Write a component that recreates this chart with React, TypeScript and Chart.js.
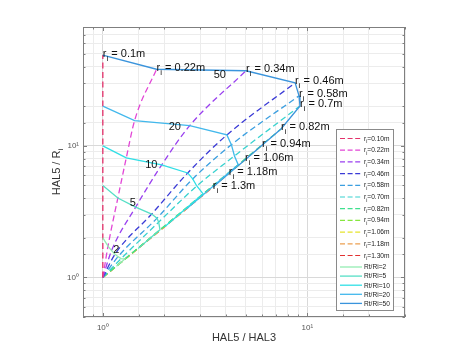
import React, { useEffect, useRef } from 'react';
import { Chart, registerables } from 'chart.js';
Chart.register(...registerables);

// ---- data ----
const RI_LEGEND = ['0.10m', '0.22m', '0.34m', '0.46m', '0.58m', '0.70m', '0.82m', '0.94m', '1.06m', '1.18m', '1.30m'];
const RI_TEXT = ['0.1m', '0.22m', '0.34m', '0.46m', '0.58m', '0.7m', '0.82m', '0.94m', '1.06m', '1.18m', '1.3m'];
const K_VALUES = [2, 5, 10, 20, 50];

// HAL5/HAL3 for each ri (rows) at Rt/Ri = 2, 5, 10, 20, 50 (columns)
const HAL_X = [
  [1, 1, 1, 1, 1],
  [1.06, 1.184, 1.302, 1.43, 1.83],
  [1.103, 1.447, 1.94, 2.66, 5.01],
  [1.148, 1.733, 2.6, 4.04, 8.71],
  [1.187, 1.84, 2.75, 4.25, 9.1],
  [1.228, 1.875, 2.88, 4.4, 9.2],
  [1.282, 1.903, 3.092, 4.59, 7.43],
  [1.248, 1.776, 2.74, 3.901, 6.0],
  [1.218, 1.669, 2.459, 3.369, 4.95],
  [1.193, 1.576, 2.222, 2.935, 4.13],
  [1.166, 1.488, 2.006, 2.561, 3.45],
];
// HAL5/Ri
const HAL_Y = [
  [2, 5, 10, 20, 49],
  [1.729, 4.01, 8.09, 15.56, 38.2],
  [1.597, 3.42, 7.16, 14.25, 37.2],
  [1.502, 3.03, 6.22, 12.1, 30.1],
  [1.438, 2.82, 5.6, 10.2, 24.0],
  [1.388, 2.63, 4.95, 8.38, 20.1],
  [1.379, 2.3, 4.313, 7.19, 13.43],
  [1.33, 2.099, 3.669, 5.79, 10.08],
  [1.289, 1.931, 3.177, 4.763, 7.81],
  [1.253, 1.79, 2.777, 3.967, 6.15],
  [1.216, 1.66, 2.431, 3.316, 4.85],
];
const ORIGIN_X = 1;
const ORIGIN_Y = 1;

// contour label anchors (Rt/Ri = 2, 5, 10, 20, 50)
const K_LABEL_X = [1.163, 1.403, 1.727, 2.25, 3.73];
const K_LABEL_Y = [1.63, 3.69, 7.16, 13.86, 34.7];

const X_MIN = 0.8, X_MAX = 30;
const Y_MIN = 0.5, Y_MAX = 80;

const RI_COLORS = ['#e4316a', '#e246d6', '#9a40ef', '#3b3bd6', '#3c9fe0', '#38d2cf', '#3fe08e', '#86e63e', '#e6e42c', '#eca052', '#e23232'];
const K_COLORS = ['#94ecb2', '#56dfc6', '#30dfe6', '#42b8ec', '#3a94dc'];

const FONT = '"Liberation Sans", Arial, sans-serif';

function isMajor(v: number) {
  const l = Math.log10(v);
  return Math.abs(l - Math.round(l)) < 1e-9;
}

function drawSub(ctx: CanvasRenderingContext2D, x: number, y: number, main: string, sub: string, rest: string, size: number, subSize: number, subDrop: number) {
  ctx.font = `${size}px ${FONT}`;
  ctx.fillText(main, x, y);
  const w1 = ctx.measureText(main).width;
  ctx.font = `${subSize}px ${FONT}`;
  ctx.fillText(sub, x + w1, y + subDrop);
  const w2 = ctx.measureText(sub).width;
  ctx.font = `${size}px ${FONT}`;
  ctx.fillText(rest, x + w1 + w2, y);
}

const overlay = {
  id: 'overlay',
  afterDraw(chart: any) {
    const { ctx, chartArea: a, scales } = chart;
    const xs = scales.x, ys = scales.y;
    ctx.save();
    // inner tick marks
    ctx.strokeStyle = '#7f7f7f';
    ctx.lineWidth = 1;
    ctx.beginPath();
    xs.ticks.forEach((t: any) => {
      const px = Math.round(xs.getPixelForValue(t.value)) + 0.5;
      const len = isMajor(t.value) ? 4 : 2.5;
      ctx.moveTo(px, a.bottom); ctx.lineTo(px, a.bottom - len);
      ctx.moveTo(px, a.top); ctx.lineTo(px, a.top + len);
    });
    ys.ticks.forEach((t: any) => {
      const py = Math.round(ys.getPixelForValue(t.value)) + 0.5;
      const len = isMajor(t.value) ? 4 : 2.5;
      ctx.moveTo(a.left, py); ctx.lineTo(a.left + len, py);
      ctx.moveTo(a.right, py); ctx.lineTo(a.right - len, py);
    });
    ctx.stroke();
    ctx.strokeRect(Math.round(a.left) + 0.5, Math.round(a.top) + 0.5, Math.round(a.right - a.left) - 1, Math.round(a.bottom - a.top) - 1);

    // r_i labels at the Rt/Ri = 50 ends
    ctx.fillStyle = '#111';
    ctx.textAlign = 'left';
    ctx.textBaseline = 'alphabetic';
    RI_TEXT.forEach((txt, i) => {
      const px = xs.getPixelForValue(HAL_X[i][4]);
      const py = ys.getPixelForValue(HAL_Y[i][4]);
      drawSub(ctx, px, py + 1.5, 'r', 'i', ' = ' + txt, 11, 8, 4);
    });

    // contour labels
    ctx.textAlign = 'center';
    ctx.textBaseline = 'middle';
    ctx.font = `11px ${FONT}`;
    K_VALUES.forEach((k, j) => {
      ctx.fillText(String(k), xs.getPixelForValue(K_LABEL_X[j]), ys.getPixelForValue(K_LABEL_Y[j]));
    });

    // legend
    const lx = 336.5, ly = 129.5, lw = 57, lh = 181;
    ctx.fillStyle = '#fff';
    ctx.fillRect(lx, ly, lw, lh);
    ctx.strokeStyle = '#8a8a8a';
    ctx.lineWidth = 1;
    ctx.strokeRect(lx, ly, lw, lh);
    ctx.textAlign = 'left';
    ctx.textBaseline = 'alphabetic';
    RI_LEGEND.forEach((txt, i) => {
      const y = 138.5 + i * 11.7;
      ctx.strokeStyle = RI_COLORS[i];
      ctx.lineWidth = 1.2;
      ctx.setLineDash([5, 2.6]);
      ctx.beginPath(); ctx.moveTo(340, y); ctx.lineTo(362, y); ctx.stroke();
      ctx.setLineDash([]);
      ctx.fillStyle = '#222';
      drawSub(ctx, 364, y + 2, 'r', 'i', '=' + txt, 6.6, 5, 2.6);
    });
    K_VALUES.forEach((k, j) => {
      const y = 267 + j * 9.1;
      ctx.strokeStyle = K_COLORS[j];
      ctx.lineWidth = 1.3;
      ctx.beginPath(); ctx.moveTo(340, y); ctx.lineTo(362, y); ctx.stroke();
      ctx.fillStyle = '#222';
      ctx.font = `6.6px ${FONT}`;
      ctx.fillText('Rt/Ri=' + k, 364, y + 2.3);
    });

    // axis titles
    ctx.fillStyle = '#333';
    ctx.font = `11px ${FONT}`;
    ctx.textAlign = 'center';
    ctx.textBaseline = 'middle';
    ctx.fillText('HAL5 / HAL3', (a.left + a.right) / 2, 338);
    ctx.save();
    ctx.translate(57, (a.top + a.bottom) / 2);
    ctx.rotate(-Math.PI / 2);
    ctx.font = `11px ${FONT}`;
    const wMain = ctx.measureText('HAL5 / R').width;
    ctx.font = `8px ${FONT}`;
    const wSub = ctx.measureText('i').width;
    ctx.textAlign = 'left';
    drawSub(ctx, -(wMain + wSub) / 2, 0, 'HAL5 / R', 'i', '', 11, 8, 4);
    ctx.restore();
    ctx.restore();
  },
};

const tickLabel = (v: any) => {
  const n = Number(v);
  if (Math.abs(n - 1) < 1e-9) return '10\u2070';
  if (Math.abs(n - 10) < 1e-9) return '10\u00b9';
  return '';
};

const gridColor = (c: any) => (c.tick && isMajor(c.tick.value) ? '#d9d9d9' : '#ececec');

export default function App() {
  const ref = useRef<HTMLCanvasElement | null>(null);
  useEffect(() => {
    if (!ref.current) return;
    const datasets: any[] = [];
    RI_LEGEND.forEach((lbl, i) => {
      const pts = [{ x: ORIGIN_X, y: ORIGIN_Y }].concat(K_VALUES.map((_, j) => ({ x: HAL_X[i][j], y: HAL_Y[i][j] })));
      datasets.push({
        label: 'ri=' + lbl,
        data: pts,
        borderColor: RI_COLORS[i],
        backgroundColor: RI_COLORS[i],
        borderWidth: 1.3,
        borderDash: [6, 3.5],
        pointRadius: 0,
        fill: false,
        tension: 0,
        cubicInterpolationMode: i === 0 ? 'default' : 'monotone',
        order: 1,
      });
    });
    K_VALUES.forEach((k, j) => {
      datasets.push({
        label: 'Rt/Ri=' + k,
        data: RI_LEGEND.map((_, i) => ({ x: HAL_X[i][j], y: HAL_Y[i][j] })),
        borderColor: K_COLORS[j],
        backgroundColor: K_COLORS[j],
        borderWidth: 1.3,
        pointRadius: 0,
        fill: false,
        tension: 0,
        order: 0,
      });
    });
    const chart = new Chart(ref.current, {
      type: 'line',
      data: { datasets },
      options: {
        animation: false,
        responsive: false,
        devicePixelRatio: 1,
        layout: { padding: { left: 0, right: 69, top: 27, bottom: 0 } },
        plugins: { legend: { display: false }, tooltip: { enabled: false } },
        scales: {
          x: {
            type: 'logarithmic',
            min: X_MIN,
            max: X_MAX,
            border: { display: false },
            grid: { color: gridColor, drawTicks: false, lineWidth: 1 },
            ticks: { autoSkip: false, maxRotation: 0, padding: 6, color: '#555', font: { size: 8, family: FONT }, callback: tickLabel },
            afterFit: (s: any) => { s.height = 39; },
          },
          y: {
            type: 'logarithmic',
            min: Y_MIN,
            max: Y_MAX,
            border: { display: false },
            grid: { color: gridColor, drawTicks: false, lineWidth: 1 },
            ticks: { autoSkip: false, padding: 4, color: '#555', font: { size: 8, family: FONT }, callback: tickLabel },
            afterFit: (s: any) => { s.width = 83; },
          },
        },
      } as any,
      plugins: [overlay],
    });
    return () => chart.destroy();
  }, []);
  return (
    <div style={{ position: 'fixed', left: 0, top: 0, width: 474, height: 356, background: '#fff' }}>
      <canvas ref={ref} width={474} height={356} style={{ display: 'block' }} />
    </div>
  );
}
